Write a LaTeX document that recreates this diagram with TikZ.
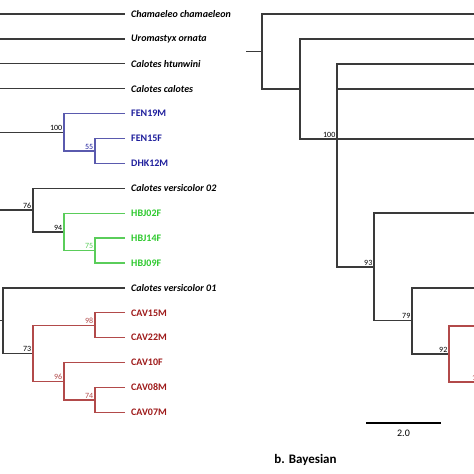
\documentclass[tikz,border=0pt]{standalone}
\usepackage{fontspec}
\setmainfont{Carlito}
\definecolor{lncol}{HTML}{3A3A3A}
\definecolor{bluetx}{HTML}{1E1E9C}
\definecolor{bluel}{HTML}{5A5AAE}
\definecolor{greentx}{HTML}{2EC92E}
\definecolor{greenl}{HTML}{5ACD5A}
\definecolor{redtx}{HTML}{9E1A1A}
\definecolor{redl}{HTML}{B24A4A}
\begin{document}
\begin{tikzpicture}[x=1pt,y=-1pt,
  br/.style={draw=lncol,line width=1.3pt},
  brB/.style={draw=bluel,line width=1.3pt},
  brG/.style={draw=greenl,line width=1.3pt},
  brR/.style={draw=redl,line width=1.3pt},
  tip/.style={anchor=west,inner xsep=6pt,inner ysep=0pt,font=\bfseries\fontsize{10}{12}\selectfont},
  sp/.style={tip,font=\bfseries\itshape\fontsize{10}{12}\selectfont},
  sup/.style={anchor=south east,inner sep=0pt,xshift=-1.5pt,yshift=1.5pt,font=\fontsize{8}{9}\selectfont}
]
\useasboundingbox (0,0) rectangle (474,474);
\clip (0,0) rectangle (474,474);

% ---------------- left tree ----------------
\coordinate (L0) at (-10,200);
\node[sp] (t1) at (125,14) {Chamaeleo chamaeleon};
\node[sp] (t2) at (125,38.9) {Uromastyx ornata};
\node[sp] (t3) at (125,63.8) {Calotes htunwini};
\node[sp] (t4) at (125,88.7) {Calotes calotes};
\node[tip,text=bluetx] (t5) at (125,113.6) {FEN19M};
\node[tip,text=bluetx] (t6) at (125,138.5) {FEN15F};
\node[tip,text=bluetx] (t7) at (125,163.4) {DHK12M};
\node[sp] (t8) at (125,188.3) {Calotes versicolor 02};
\node[tip,text=greentx] (t9) at (125,213.2) {HBJ02F};
\node[tip,text=greentx] (t10) at (125,238.1) {HBJ14F};
\node[tip,text=greentx] (t11) at (125,263) {HBJ09F};
\node[sp] (t12) at (125,287.9) {Calotes versicolor 01};
\node[tip,text=redtx] (t13) at (125,312.8) {CAV15M};
\node[tip,text=redtx] (t14) at (125,337.7) {CAV22M};
\node[tip,text=redtx] (t15) at (125,362.6) {CAV10F};
\node[tip,text=redtx] (t16) at (125,387.5) {CAV08M};
\node[tip,text=redtx] (t17) at (125,412.4) {CAV07M};

\coordinate (B) at (64,132.3);
\coordinate (B2) at (95,150.95);
\coordinate (G0) at (33,210.1);
\coordinate (G1) at (64,231.9);
\coordinate (G2) at (95,250.55);
\coordinate (R0) at (3,320.6);
\coordinate (R1) at (33,353.3);
\coordinate (R2) at (95,325.25);
\coordinate (R3) at (64,381.3);
\coordinate (R4) at (95,399.95);

\draw[br] (L0) |- (t1.west);
\draw[br] (L0) |- (t2.west);
\draw[br] (L0) |- (t3.west);
\draw[br] (L0) |- (t4.west);
\draw[br] (L0) |- (B);
\draw[br] (L0) |- (G0);
\draw[br] (L0) |- (R0);

\draw[brB] (B) |- (t5.west);
\draw[brB] (B) |- (B2);
\draw[brB] (B2) |- (t6.west);
\draw[brB] (B2) |- (t7.west);

\draw[br] (G0) |- (t8.west);
\draw[br] (G0) |- (G1);
\draw[brG] (G1) |- (t9.west);
\draw[brG] (G1) |- (G2);
\draw[brG] (G2) |- (t10.west);
\draw[brG] (G2) |- (t11.west);

\draw[br] (R0) |- (t12.west);
\draw[br] (R0) |- (R1);
\draw[brR] (R1) |- (R2);
\draw[brR] (R1) |- (R3);
\draw[brR] (R2) |- (t13.west);
\draw[brR] (R2) |- (t14.west);
\draw[brR] (R3) |- (t15.west);
\draw[brR] (R3) |- (R4);
\draw[brR] (R4) |- (t16.west);
\draw[brR] (R4) |- (t17.west);

\node[sup] (sB) at (B) {100};
\node[sup,text=bluetx] (sB2) at (B2) {55};
\node[sup] (sG0) at (G0) {76};
\node[sup] (sG1) at (G1) {94};
\node[sup,text=greenl] (sG2) at (G2) {75};
\node[sup] (sR1) at (R1) {73};
\node[sup,text=redl] (sR2) at (R2) {98};
\node[sup,text=redl] (sR3) at (R3) {96};
\node[sup,text=redl] (sR4) at (R4) {74};

% ---------------- right tree ----------------
\coordinate (RT0) at (246,51.5);
\coordinate (RA) at (262,51.5);
\coordinate (RB) at (300,89);
\coordinate (RC) at (337,139);
\coordinate (RD) at (374,267);
\coordinate (RE) at (412,320.5);
\coordinate (RF) at (449,354);
\coordinate (RG) at (486,382);
\coordinate (a1) at (490,14);
\coordinate (b1) at (490,39);
\coordinate (c1) at (490,64);
\coordinate (c2) at (490,89);
\coordinate (c3) at (490,139);
\coordinate (d1) at (490,213);
\coordinate (e1) at (490,288);
\coordinate (f1) at (490,326);

\draw[br] (RT0) -- (RA);
\draw[br] (RA) |- (a1);
\draw[br] (RA) |- (RB);
\draw[br] (RB) |- (b1);
\draw[br] (RB) |- (RC);
\draw[br] (RC) |- (c1);
\draw[br] (RC) |- (c2);
\draw[br] (RC) |- (c3);
\draw[br] (RC) |- (RD);
\draw[br] (RD) |- (d1);
\draw[br] (RD) |- (RE);
\draw[br] (RE) |- (e1);
\draw[br] (RE) |- (RF);
\draw[brR] (RF) |- (f1);
\draw[brR] (RF) |- (RG);

\node[sup] (sRC) at (RC) {100};
\node[sup] (sRD) at (RD) {93};
\node[sup] (sRE) at (RE) {79};
\node[sup] (sRF) at (RF) {92};
\node[sup,text=redl] (sRG) at (RG) {100};

% scale bar and title
\coordinate (sb1) at (366,423);
\coordinate (sb2) at (441,423);
\draw[black,line width=1.8pt] (sb1) -- (sb2);
\node[font=\fontsize{10}{12}\selectfont,inner sep=0pt] (sbl) at (403.5,433) {2.0};
\node[font=\bfseries\fontsize{13}{15}\selectfont,inner sep=0pt] (title) at (305.5,460) {b. Bayesian};
\end{tikzpicture}
\end{document}
